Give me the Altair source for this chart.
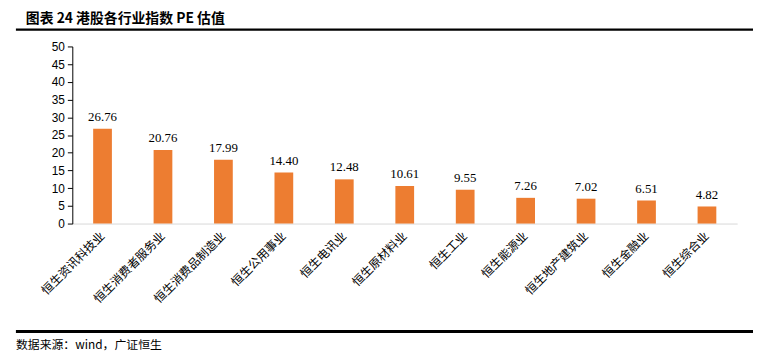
import altair as alt
import pandas as pd

categories = ["恒生资讯科技业", "恒生消费者服务业", "恒生消费品制造业", "恒生公用事业", "恒生电讯业",
              "恒生原材料业", "恒生工业", "恒生能源业", "恒生地产建筑业", "恒生金融业", "恒生综合业"]
values = [26.76, 20.76, 17.99, 14.40, 12.48, 10.61, 9.55, 7.26, 7.02, 6.51, 4.82]

df = pd.DataFrame({"cat": categories, "pe": values})
df["label"] = [f"{v:.2f}" for v in values]

W, H = 672, 179
x = alt.X("cat:N", sort=categories, title=None,
          scale=alt.Scale(paddingInner=0.69, paddingOuter=0.345),
          axis=alt.Axis(labelAngle=-45, labelAlign="right", labelBaseline="middle",
                        labelFont="Noto Sans CJK SC", labelFontSize=12, labelColor="#000",
                        ticks=False, domainColor="#d9d9d9", labelPadding=10))
y = alt.Y("pe:Q", title=None, scale=alt.Scale(domain=[0, 50]),
          axis=alt.Axis(values=list(range(0, 55, 5)), grid=False, tickSize=5, tickColor="#000",
                        domainColor="#000", labelFont="Liberation Sans", labelFontSize=12,
                        labelColor="#000", labelPadding=3))

bars = alt.Chart(df).mark_bar(color="#ED7D31").encode(x=x, y=y)
text = alt.Chart(df).mark_text(dy=-12, font="Liberation Serif", fontSize=13, color="#000").encode(
    x=x, y=y, text="label:N")

deco = pd.DataFrame({"a": [0]})
title = alt.Chart(deco).mark_text(align="left", baseline="middle", font="Noto Sans CJK SC",
                                  fontWeight="bold", fontSize=14, color="#000").encode(
    x=alt.value(-47), y=alt.value(-28), text=alt.value("图表 24  港股各行业指数 PE 估值"))
line1 = alt.Chart(deco).mark_rule(color="#000", strokeWidth=2.5).encode(
    x=alt.value(-57), x2=alt.value(690), y=alt.value(-17))
line2 = alt.Chart(deco).mark_rule(color="#000", strokeWidth=3).encode(
    x=alt.value(-57), x2=alt.value(690), y=alt.value(288))
source = alt.Chart(deco).mark_text(align="left", baseline="middle", font="Noto Sans CJK SC",
                                   fontSize=12, color="#000").encode(
    x=alt.value(-57), y=alt.value(302), text=alt.value("数据来源：wind，广证恒生"))

chart = alt.layer(bars, text, title, line1, line2, source).properties(
    width=W, height=H,
    autosize=alt.AutoSizeParams(type="none"),
    padding={"left": 65, "top": 37, "right": 16, "bottom": 132},
).configure(background="white").configure_view(stroke=None, strokeWidth=0)

chart.save("out.html", embed_options={"renderer": "svg", "actions": False})
